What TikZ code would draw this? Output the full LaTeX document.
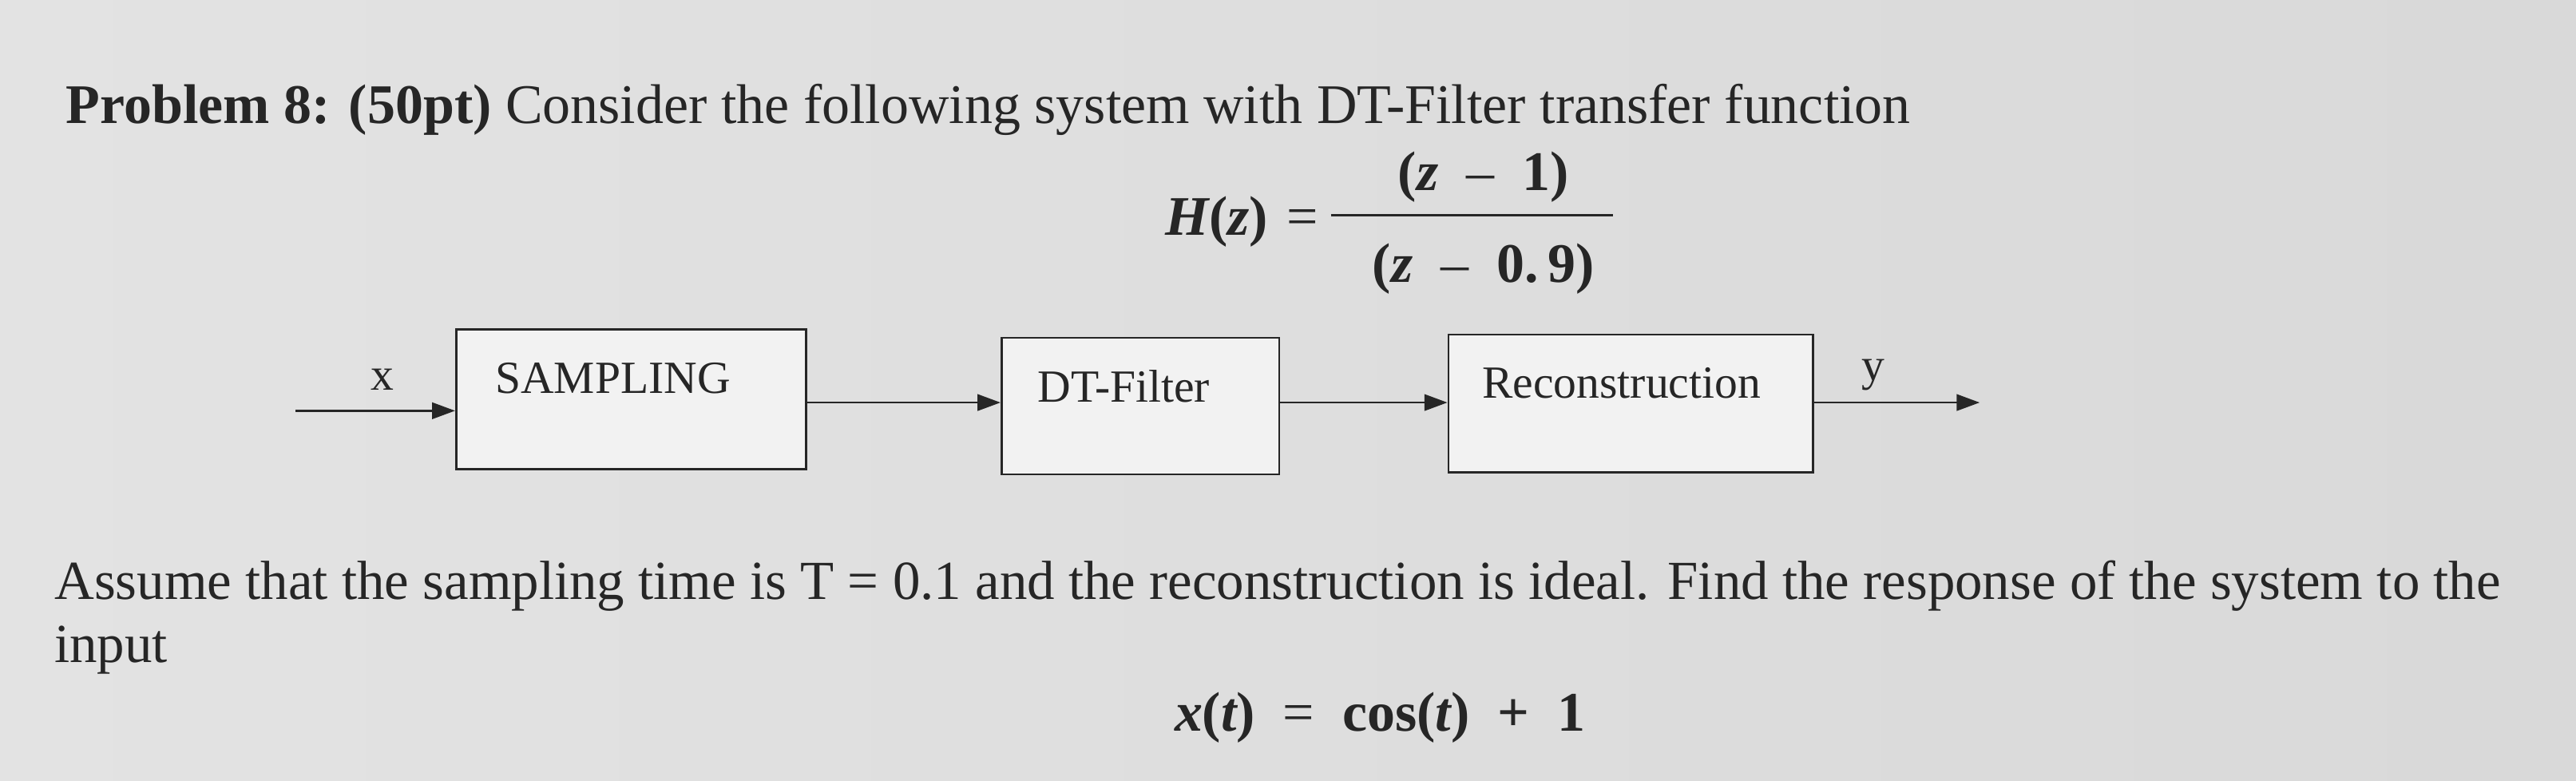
\documentclass[tikz,border=0pt]{standalone}
\usepackage{fontspec}
\setmainfont{Liberation Serif}
\usetikzlibrary{arrows.meta}
\begin{document}
\begin{tikzpicture}[x=1pt,y=-1pt,
  blk/.style={draw=black!85,line width=1.3pt,fill=white!90!gray},
  lbl/.style={font=\fontsize{28}{32}\selectfont,text=black!85},
  con/.style={draw=black!85,line width=1.2pt,-{Triangle[length=14pt,width=10pt]}},
  txt/.style={font=\fontsize{33.5}{38}\selectfont,text=black!85,anchor=base west,inner sep=0pt},
  mth/.style={font=\fontsize{34}{38}\selectfont\bfseries,text=black!85,inner sep=0pt}]
\fill[left color=gray!22,right color=gray!30] (0,0) rectangle (1568,475);
\node[txt,font=\fontsize{34}{38}\selectfont] (title) at (40,75) {\textbf{Problem 8: (50pt)} Consider the following system with DT-Filter transfer function};
\node[mth,anchor=base east] (hz) at (772,143) {\itshape H\upshape(\itshape z\upshape)};
\node[mth,anchor=base] (eq) at (793,143) {\mdseries =};
\node[mth,anchor=base] (num) at (903,116) {(\itshape z\upshape\ \ \mdseries --\ \ \bfseries 1)};
\node[mth,anchor=base] (den) at (903,172) {(\itshape z\upshape\ \ \mdseries --\ \ \bfseries 0.\,9)};
\draw[line width=1.3pt,black!85] (810,131) -- (982,131);
\node[blk,minimum width=213,minimum height=85,anchor=north west] (samp) at (277,200) {};
\node[lbl] at (373,230) {SAMPLING};
\node[blk,minimum width=169,minimum height=83,anchor=north west] (dt) at (609,205) {};
\node[lbl] at (684,235) {DT-Filter};
\node[blk,minimum width=222,minimum height=84,anchor=north west] (rec) at (881,203) {};
\node[lbl] at (987,233) {Reconstruction};
\coordinate (xin) at (180,250);
\coordinate (yout) at (1205,245);
\draw[con] (xin) -- (samp.west|-xin);
\draw[con] (samp.east|-0,245) -- (dt.west|-0,245);
\draw[con] (dt.east|-0,245) -- (rec.west|-0,245);
\draw[con] (rec.east|-yout) -- (yout);
\node[lbl] at (233,231) {x};
\node[lbl] at (1140,228) {y};
\node[txt] (p1) at (33,365) {Assume that the sampling time is T = 0.1 and the reconstruction is ideal. Find the response of the system to the};
\node[txt] (p2) at (33,403) {input};
\node[mth,anchor=base] (xt) at (840,445) {\itshape x\upshape(\itshape t\upshape)\ \ \mdseries =\ \ \bfseries cos(\itshape t\upshape)\ \ +\ \ 1};
\end{tikzpicture}
\end{document}
